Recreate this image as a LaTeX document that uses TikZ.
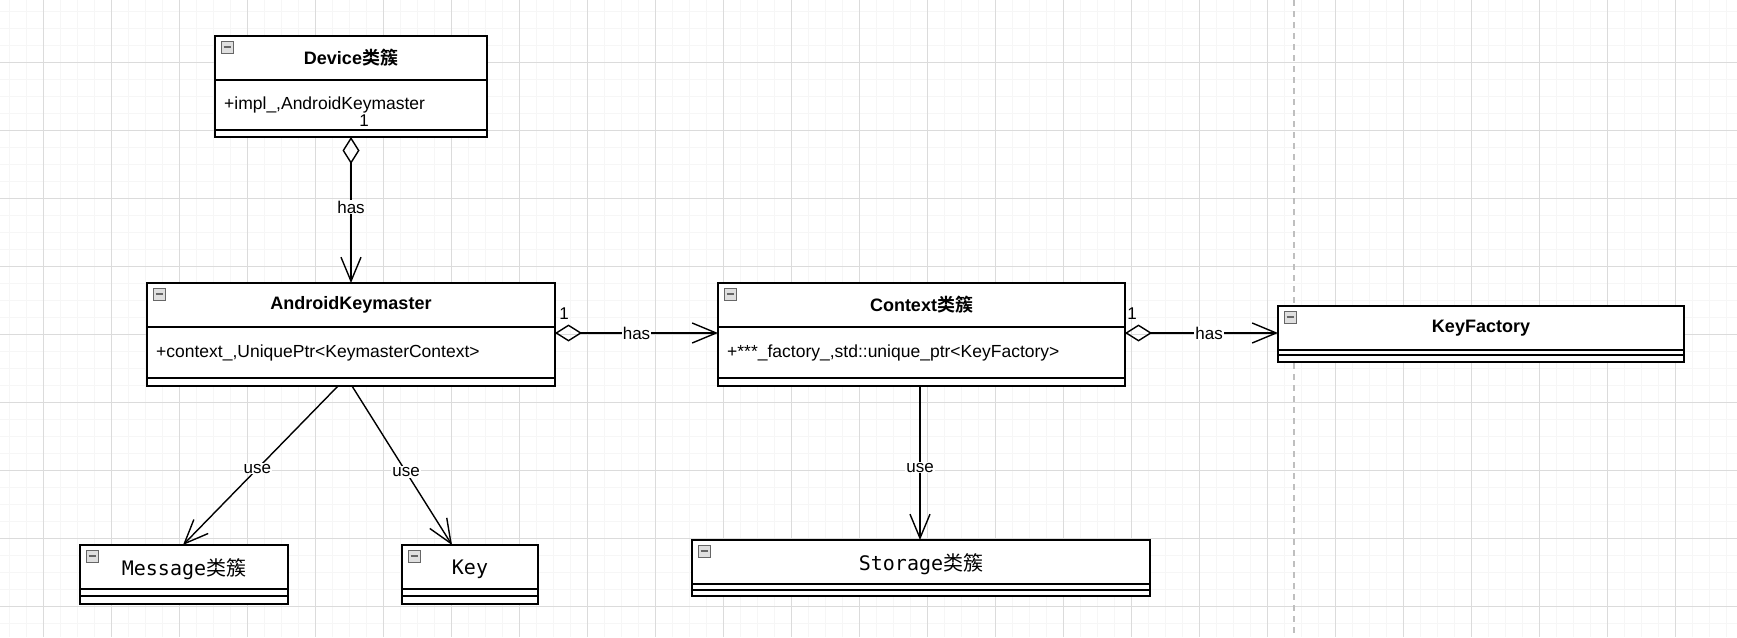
\documentclass[tikz,border=0pt]{standalone}
\usepackage{fontspec}
\setmainfont{Liberation Sans}
\newfontfamily\monofont{DejaVu Sans Mono}
\newfontfamily\cjk{Noto Sans CJK SC}[BoldFont={Noto Sans CJK SC Bold}]
\usetikzlibrary{arrows.meta}

\tikzset{
	boxline/.style={draw=black, line width=1.6pt},
	ctitle/.style={font=\fontsize{18}{20}\selectfont\bfseries, inner sep=0pt},
	cmono/.style={font=\fontsize{20}{22}\monofont, inner sep=0pt},
	cattr/.style={font=\fontsize{17.5}{19}\selectfont, inner sep=0pt, anchor=west},
	lbl/.style={font=\fontsize{17}{19}\selectfont, fill=white, inner sep=1pt},
	mult/.style={font=\fontsize{17}{19}\selectfont, inner sep=0pt},
	has/.style={line width=1.4pt, {Diamond[open,length=27pt,width=17pt]}-{Straight Barb[length=24pt,width=20pt]}},
	use/.style={line width=1.4pt, -{Straight Barb[length=24pt,width=20pt]}},
}

% name, left, right, top, title bottom, row bottom, bottom, title, attr
\newcommand\umlclass[9]{%
	\coordinate (#1-nw) at (#2,#4);
	\coordinate (#1-se) at (#3,#7);
	\draw[boxline, fill=white] (#1-nw) rectangle (#1-se);
	\draw[boxline] (#2,#5) -- (#3,#5);
	\draw[boxline] (#2,#6) -- (#3,#6);
	\node[ctitle] (#1-title) at ({(#2+#3)/2},{(#4+#5)/2}) {#8};
	\node[cattr] (#1-attr) at (#2+9,{(#5+#6)/2}) {#9};
	\node[draw=gray!80!black, fill=gray!25, minimum size=12pt, inner sep=0pt,
		path picture={\draw[line width=2pt] ([xshift=2.5pt]path picture bounding box.west) -- ([xshift=-2.5pt]path picture bounding box.east);}]
		(#1-icon) at (#2+12,#4+11) {};
}

\begin{document}
\begin{tikzpicture}[x=1pt, y=-1pt]
	\useasboundingbox (0,0) rectangle (1737,637);

	% grid
	\foreach \gx in {9.3,26.3,...,1737} \draw[gray!7, line width=1.2pt] (\gx,0) -- (\gx,637);
	\foreach \gy in {11.3,28.3,...,637} \draw[gray!7, line width=1.2pt] (0,\gy) -- (1737,\gy);
	\foreach \gx in {43.3,111.3,...,1737} \draw[gray!28, line width=0.7pt] (\gx,0) -- (\gx,637);
	\foreach \gy in {62.3,130.3,...,637} \draw[gray!28, line width=0.7pt] (0,\gy) -- (1737,\gy);
	\draw[gray!50, line width=1.2pt, dash pattern=on 6pt off 5pt] (1294,0) -- (1294,637);

	% classes
	\umlclass{dev}{215}{487}{36}{80}{130}{137}{Device{\cjk\bfseries 类簇}}{+impl\_,AndroidKeymaster}
	\umlclass{akm}{147}{555}{283}{327}{378}{386}{AndroidKeymaster}{+context\_,UniquePtr<KeymasterContext>}
	\umlclass{ctx}{718}{1125}{283}{327}{378}{386}{Context{\cjk\bfseries 类簇}}{+***\_factory\_,std::unique\_ptr<KeyFactory>}
	\umlclass{kf}{1278}{1684}{306}{350}{355}{362}{KeyFactory}{}
	\umlclass{msg}{80}{288}{545}{589}{596}{604}{}{}
	\umlclass{key}{402}{538}{545}{589}{596}{604}{}{}
	\umlclass{sto}{692}{1150}{540}{584}{590}{596}{}{}
	\node[cmono] (msg-name) at (184,569) {Message{\cjk 类簇}};
	\node[cmono] (key-name) at (470,569) {Key};
	\node[cmono] (sto-name) at (921,564) {Storage{\cjk 类簇}};

	% connector ends
	\coordinate (dev-out) at (351,137);
	\coordinate (akm-in) at (351,283);
	\coordinate (akm-out) at (555,333);
	\coordinate (ctx-in) at (718,333);
	\coordinate (ctx-out) at (1125,333);
	\coordinate (kf-in) at (1278,333);
	\coordinate (akm-msg) at (338,386);
	\coordinate (msg-in) at (183,545);
	\coordinate (akm-key) at (352,386);
	\coordinate (key-in) at (452,545);
	\coordinate (ctx-sto) at (920,386);
	\coordinate (sto-in) at (920,540);

	\draw[has] (dev-out) -- node[lbl, pos=0.48] (has1) {has} (akm-in);
	\draw[has] (akm-out) -- node[lbl, pos=0.5] (has2) {has} (ctx-in);
	\draw[has] (ctx-out) -- node[lbl, pos=0.55] (has3) {has} (kf-in);
	\draw[use] (akm-msg) -- node[lbl, pos=0.52] (use1) {use} (msg-in);
	\draw[use] (akm-key) -- node[lbl, pos=0.54] (use2) {use} (key-in);
	\draw[use] (ctx-sto) -- node[lbl, pos=0.53] (use3) {use} (sto-in);

	\node[mult, fill=white, inner sep=1pt] (m1) at (364,121) {1};
	\node[mult] (m2) at (564,314) {1};
	\node[mult] (m3) at (1132,314) {1};
\end{tikzpicture}
\end{document}
